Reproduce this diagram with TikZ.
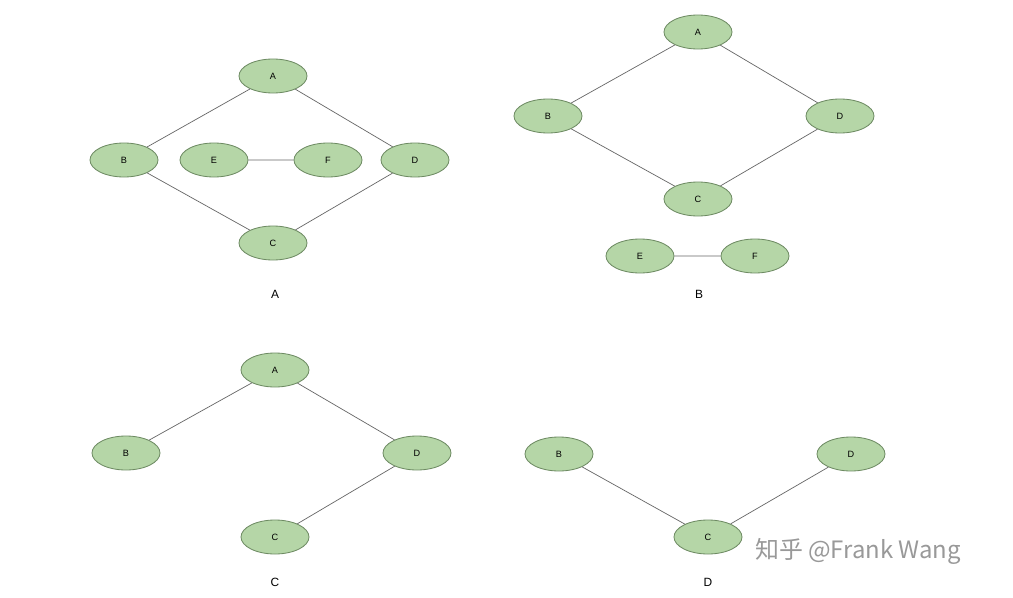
\documentclass[tikz,border=0pt]{standalone}
\usepackage{fontspec}
\setmainfont{Liberation Sans}
\newfontfamily\cjk{Noto Sans CJK SC}
\usetikzlibrary{shapes.geometric}
\definecolor{nodefill}{HTML}{B5D6A7}
\definecolor{nodeline}{HTML}{6E8B63}
\tikzset{
 gn/.style={ellipse,draw=nodeline,fill=nodefill,line width=0.6pt,minimum width=68*0.025cm,minimum height=34*0.025cm,inner sep=0pt,font=\fontsize{6.5}{7}\selectfont},
 ed/.style={draw=black!60,line width=0.5pt},
 captext/.style={font=\fontsize{8.5}{10}\selectfont}
}
\begin{document}
\begin{tikzpicture}[x=0.025cm,y=-0.025cm]
\useasboundingbox[fill=white] (0,0) rectangle (1013,598);
% A
\node[gn] (aA) at (273,76) {A};
\node[gn] (aB) at (124,160) {B};
\node[gn] (aE) at (214,160) {E};
\node[gn] (aF) at (328,160) {F};
\node[gn] (aD) at (415,160) {D};
\node[gn] (aC) at (273,243) {C};
\draw[ed] (aA)--(aB) (aA)--(aD) (aB)--(aC) (aD)--(aC) (aE)--(aF);
\node[captext] (la) at (275,294) {A};
% B
\node[gn] (bA) at (698,32) {A};
\node[gn] (bB) at (548,116) {B};
\node[gn] (bD) at (840,116) {D};
\node[gn] (bC) at (698,199) {C};
\node[gn] (bE) at (640,256) {E};
\node[gn] (bF) at (755,256) {F};
\draw[ed] (bA)--(bB) (bA)--(bD) (bB)--(bC) (bD)--(bC) (bE)--(bF);
\node[captext] (lb) at (699,294) {B};
% C
\node[gn] (cA) at (275,370) {A};
\node[gn] (cB) at (126,453) {B};
\node[gn] (cD) at (417,453) {D};
\node[gn] (cC) at (275,537) {C};
\draw[ed] (cA)--(cB) (cA)--(cD) (cD)--(cC);
\node[captext] (lc) at (275,582) {C};
% D
\node[gn] (dB) at (559,454) {B};
\node[gn] (dD) at (851,454) {D};
\node[gn] (dC) at (708,537) {C};
\draw[ed] (dB)--(dC) (dD)--(dC);
\node[captext] (ld) at (708,582) {D};
% watermark
\node[font=\cjk\fontsize{17}{20}\selectfont,text=black!40] (wm) at (858,551) {知乎 @Frank Wang};
\end{tikzpicture}
\end{document}
